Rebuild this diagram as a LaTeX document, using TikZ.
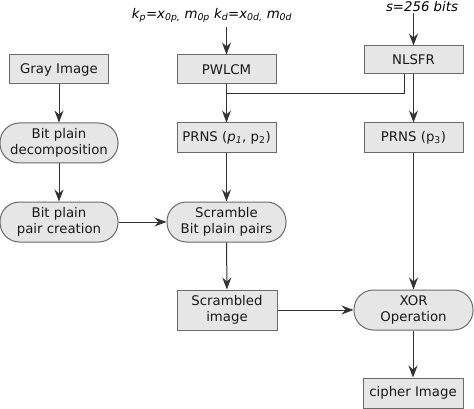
\documentclass[tikz,border=0pt]{standalone}
\usepackage{fontspec}
\setmainfont{DejaVu Sans}
\usetikzlibrary{arrows.meta}
\definecolor{boxfill}{HTML}{E6E6E6}
\definecolor{boxline}{HTML}{6A6A6A}
\definecolor{linecol}{HTML}{333333}
\tikzset{
  base/.style={draw=boxline, fill=boxfill, line width=1pt, inner sep=0pt, align=center,
    font=\fontsize{13.3}{16.5}\selectfont, text=black!90},
  sbox/.style={base, rectangle, minimum width=99pt, minimum height=29pt},
  pill/.style={base, rectangle, rounded corners=19.5pt, minimum width=119pt, minimum height=40pt},
  arr/.style={draw=linecol, line width=1pt, -{Stealth[length=12pt,width=9pt,inset=4pt]}},
  ln/.style={draw=linecol, line width=1pt},
  lbl/.style={inner sep=0pt, font=\fontsize{13.3}{16}\selectfont\itshape}
}
\begin{document}
\begin{tikzpicture}[x=1pt,y=-1pt]
\useasboundingbox (0,0) rectangle (474,409);
\clip (0,0) rectangle (474,409);
% nodes
\node[sbox] (gray) at (59,69.5) {Gray Image};
\node[sbox] (pwlcm) at (226.5,69.5) {PWLCM};
\node[sbox, minimum height=28pt] (nlsfr) at (413.5,60) {NLSFR};
\node[pill, minimum width=118pt] (decomp) at (59,143) {Bit plain\\decomposition};
\node[pill, minimum width=118pt] (pair) at (59,222) {Bit plain\\pair creation};
\node[sbox, minimum height=30pt] (prns1) at (226.5,138) {PRNS (\textit{p\textsubscript{1}}, p\textsubscript{2})};
\node[sbox, minimum height=30pt] (prns3) at (413.5,138) {PRNS (p\textsubscript{3})};
\node[pill] (scr) at (226.5,222) {Scramble\\Bit plain pairs};
\node[sbox, minimum width=100pt, minimum height=40pt] (scrimg) at (227,310) {Scrambled\\image};
\node[pill] (xor) at (413.5,310) {XOR\\Operation};
\node[sbox, minimum width=100pt, minimum height=30pt] (cipher) at (413,393) {cipher Image};
% inputs
\node[lbl] (keys) at (212,15) {k\textsubscript{p}=x\textsubscript{0p,} m\textsubscript{0p} k\textsubscript{d}=x\textsubscript{0d,} m\textsubscript{0d}};
\node[lbl] (seed) at (422,7) {s=256 bits};
\coordinate (kin) at (226.5,27);
\coordinate (sin) at (413.5,13);
\coordinate (j1) at (404,94);
\coordinate (j2) at (226.5,94);
% connectors
\draw[arr] (kin) -- (pwlcm);
\draw[arr] (sin) -- (nlsfr);
\draw[arr] (gray) -- (decomp);
\draw[arr] (decomp) -- (pair);
\draw[arr] (pair) -- (scr);
\draw[arr] (pwlcm) -- (prns1);
\draw[ln] (nlsfr.south -| j1) -- (j1) -- (j2);
\draw[arr] (nlsfr) -- (prns3);
\draw[arr] (prns1) -- (scr);
\draw[arr] (scr) -- (scrimg);
\draw[arr] (prns3) -- (xor);
\draw[arr] (scrimg) -- (xor);
\draw[arr] (xor.south -| cipher.north) -- (cipher.north);
\end{tikzpicture}
\end{document}
